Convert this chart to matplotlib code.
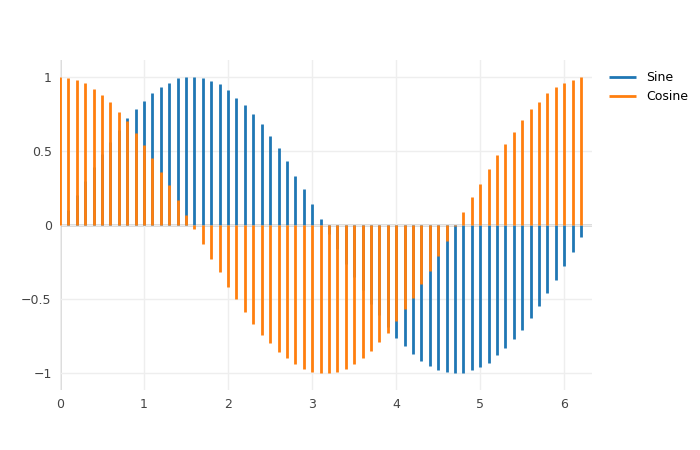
import matplotlib.pyplot as plt

x = [round(0.1 * i, 1) for i in range(63)]
sine = [0, .10, .20, .30, .39, .48, .56, .64, .72, .78, .84, .89, .93, .96, .99, 1.00,
        1.00, .99, .97, .95, .91, .86, .81, .75, .68, .60, .52, .43, .33, .24, .14, .04,
        -.06, -.16, -.26, -.35, -.44, -.53, -.61, -.69, -.76, -.82, -.87, -.92, -.95, -.98,
        -.99, -1.00, -1.00, -.98, -.96, -.93, -.88, -.83, -.77, -.71, -.63, -.55, -.46,
        -.37, -.28, -.18, -.08]
cosine = [1.00, .995, .98, .96, .92, .88, .83, .76, .70, .62, .54, .45, .36, .27, .17, .07,
          -.03, -.13, -.23, -.32, -.42, -.50, -.59, -.67, -.74, -.80, -.86, -.90, -.94, -.97,
          -.99, -1.00, -1.00, -.99, -.97, -.94, -.90, -.85, -.79, -.73, -.65, -.57, -.49,
          -.40, -.31, -.21, -.11, -.01, .09, .19, .28, .38, .47, .55, .63, .71, .78, .83,
          .89, .93, .96, .98, 1.00]

fig = plt.figure(figsize=(7, 4.5), dpi=100)
ax = fig.add_axes([0.0857, 0.133, 0.76, 0.734])

ax.vlines(x, 0, sine, color='#1f77b4', linewidth=2, label='Sine')
ax.vlines(x, 0, cosine, color='#ff7f0e', linewidth=2, label='Cosine')
ax.axhline(0, color='#444444', linewidth=1, zorder=0.5)
ax.axvline(0, color='#444444', linewidth=1, zorder=0.5)

ax.set_xlim(0, 6.33)
ax.set_ylim(-1.115, 1.115)
ax.set_xticks([0, 1, 2, 3, 4, 5, 6])
ax.set_yticks([-1, -0.5, 0, 0.5, 1])
ax.set_yticklabels(['\u22121', '\u22120.5', '0', '0.5', '1'])
ax.grid(color='#eeeeee', linewidth=1)
ax.set_axisbelow(True)
for s in ax.spines.values():
    s.set_visible(False)
ax.tick_params(length=0, labelsize=9, colors='#444444', pad=6)

ax.legend(loc='upper left', bbox_to_anchor=(1.01, 1.0), frameon=False, fontsize=9,
          handlelength=2.2)
fig.savefig('out.png')
